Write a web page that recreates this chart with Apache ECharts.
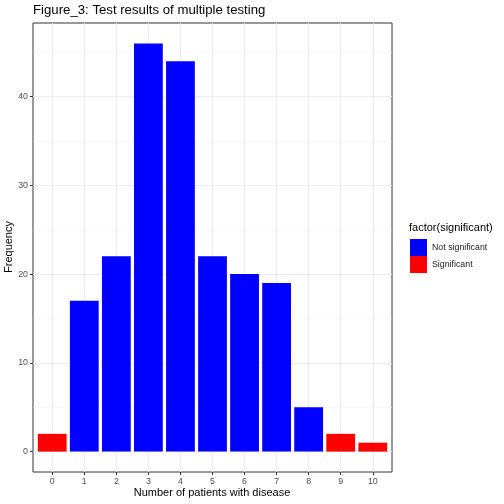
<!DOCTYPE html>
<html><head><meta charset="utf-8">
<script src="https://cdn.jsdelivr.net/npm/echarts@6/dist/echarts.min.js"></script>
<style>html,body{margin:0;padding:0;background:#fff}#c{width:504px;height:504px}</style>
</head><body><div id="c"></div>
<script>
const categories = [0,1,2,3,4,5,6,7,8,9,10];
const frequency = [2,17,22,46,44,22,20,19,5,2,1];
const significant = [true,false,false,false,false,false,false,false,false,true,true];
const yTicks = [0,10,20,30,40];
const yMinor = [5,15,25,35,45];
const legendNames = ['Not significant','Significant'];

const notSig = [], sig = [];
categories.forEach((c,i)=>{ (significant[i]?sig:notSig).push([c,frequency[i]]); });

const chart = echarts.init(document.getElementById('c'),null,{renderer:'canvas'});
const FONT = 'Liberation Sans, Arial, sans-serif';
chart.setOption({
  animation:false,
  backgroundColor:'#fff',
  grid:{left:33,right:112,top:23,bottom:32,show:true,borderColor:'#333333',borderWidth:1,backgroundColor:'#fff',z:0},
  xAxis:{type:'value',min:-0.6,max:10.6,
    axisLine:{show:false,onZero:false},
    axisTick:{show:true,customValues:categories,length:3,lineStyle:{color:'#333333'}},
    axisLabel:{customValues:categories,color:'#4D4D4D',fontSize:8.8,fontFamily:FONT,margin:5},
    splitLine:{show:true,lineStyle:{color:'#EBEBEB',width:1}}},
  yAxis:[{type:'value',min:-2.3,max:48.3,position:'left',
    axisLine:{show:false,onZero:false},
    axisTick:{show:true,customValues:yTicks,length:3,lineStyle:{color:'#333333'}},
    axisLabel:{customValues:yTicks,color:'#4D4D4D',fontSize:8.8,fontFamily:FONT,margin:5},
    splitLine:{show:true,lineStyle:{color:'#EBEBEB',width:1}}},
   {type:'value',min:-2.3,max:48.3,position:'right',
    axisLine:{show:false,onZero:false},
    axisTick:{show:false,customValues:yMinor},
    axisLabel:{show:false,customValues:yMinor},
    splitLine:{show:true,lineStyle:{color:'#F4F4F4',width:0.6}}}],
  legend:{orient:'vertical',left:410,top:239,padding:0,itemWidth:17,itemHeight:17,itemGap:0,icon:'rect',
    data:legendNames,textStyle:{fontSize:8.8,color:'#1a1a1a',fontFamily:FONT},itemStyle:{borderWidth:0}},
  series:[
    {name:legendNames[0],type:'bar',data:notSig,barWidth:28.8,barGap:'-100%',itemStyle:{color:'#0000FF'}},
    {name:legendNames[1],type:'bar',data:sig,barWidth:28.8,barGap:'-100%',itemStyle:{color:'#FF0000'}}
  ],
  graphic:[
    {type:'text',left:33,top:4,style:{text:'Figure_3: Test results of multiple testing',fontSize:13.2,fill:'#000',fontFamily:FONT}},
    {type:'text',left:409,top:222,style:{text:'factor(significant)',fontSize:11,fill:'#000',fontFamily:FONT}},
    {type:'text',x:212,y:493,style:{text:'Number of patients with disease',fontSize:11,fill:'#000',fontFamily:FONT,align:'center',verticalAlign:'middle'}},
    {type:'text',x:9,y:247,rotation:Math.PI/2,style:{text:'Frequency',fontSize:11,fill:'#000',fontFamily:FONT,align:'center',verticalAlign:'middle'}}
  ]
});
</script></body></html>
